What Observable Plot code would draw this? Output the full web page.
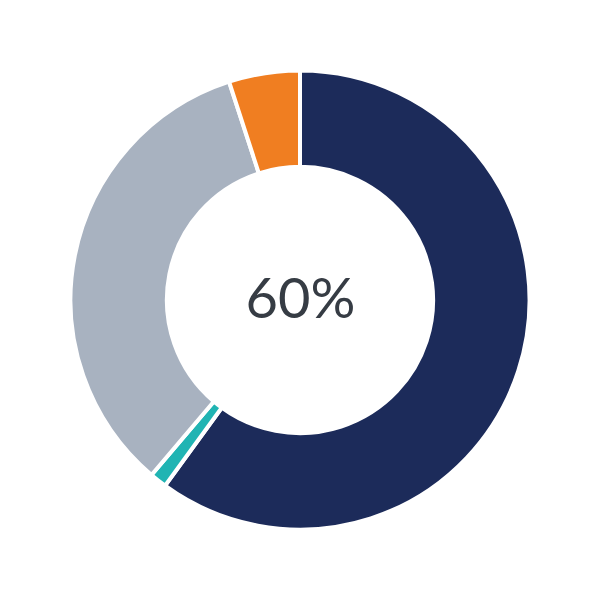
<!DOCTYPE html>
<html><head><meta charset="utf-8">
<script src="https://cdn.jsdelivr.net/npm/d3@7"></script>
<script src="https://cdn.jsdelivr.net/npm/@observablehq/plot@0.6"></script>
<style>html,body{margin:0;padding:0;background:#fff}</style>
</head><body><div id="chart"></div>
<script>
const categories = ["Segment A", "Segment B", "Segment C", "Segment D"];
const values = [60, 1.2, 33.8, 5];
const colors = ["#1c2b5a", "#20b4b3", "#a8b2c0", "#f07e21"];
const centerLabel = "60%";

const data = categories.map((c, i) => ({category: c, value: values[i]}));
const arcs = d3.pie().value(d => d.value).sort(null)(data);
const fallbackColor = d3.scaleOrdinal(categories, colors);

function donut(index, scales) {
  const cx = scales.x(0), cy = scales.y(0);
  const R = Math.abs(scales.x(1) - scales.x(0));
  const color = scales.color || fallbackColor;
  const arc = d3.arc().innerRadius(R * 0.58).outerRadius(R);
  const g = d3.create("svg:g").attr("transform", `translate(${cx},${cy})`);
  g.selectAll("path").data(arcs).join("path")
    .attr("d", arc)
    .attr("fill", d => color(d.data.category))
    .attr("stroke", "#fff")
    .attr("stroke-width", 4)
    .attr("stroke-linejoin", "miter");
  return g.node();
}

const chart = Plot.plot({
  width: 600,
  height: 600,
  margin: 0,
  x: {domain: [-1.307, 1.307], axis: null},
  y: {domain: [-1.307, 1.307], axis: null},
  color: {type: "ordinal", domain: categories, range: colors},
  style: {background: "#fff"},
  marks: [
    donut,
    Plot.text([centerLabel], {
      x: () => 0, y: () => 0, text: d => d,
      fontSize: 56, fontFamily: "Lato", fontWeight: 400, fill: "#363c44",
      textAnchor: "middle"
    })
  ]
});
document.getElementById("chart").appendChild(chart);
</script>
</body></html>
